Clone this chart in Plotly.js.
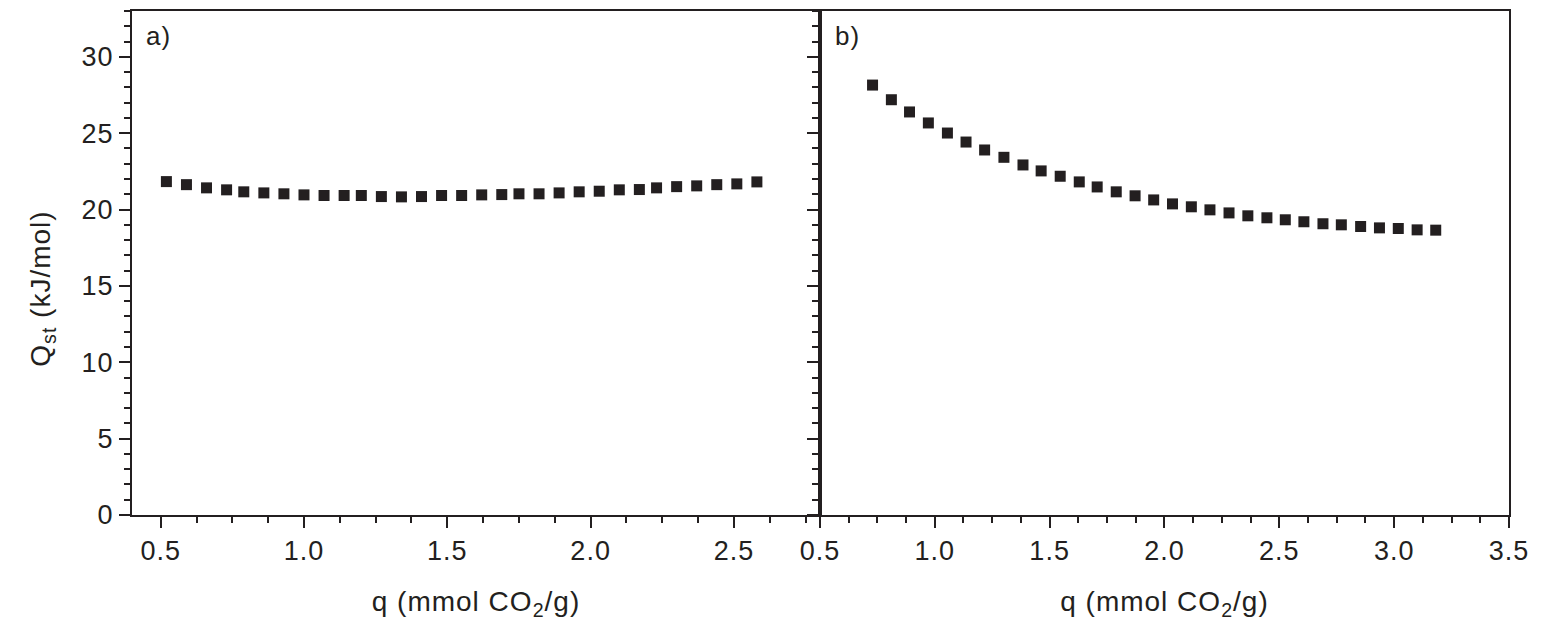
<!DOCTYPE html>
<html>
<head>
<meta charset="utf-8">
<script src="https://cdn.plot.ly/plotly-3.0.1.min.js"></script>
<style>
  html, body { margin: 0; padding: 0; background: #fff; }
  #chart { width: 1541px; height: 633px; }
  /* slightly open tracking for chart text */
  #chart text { letter-spacing: 1px; }
</style>
</head>
<body>
<div id="chart"></div>
<script>
// Panel a): isosteric heat of adsorption vs CO2 loading
const qA = [0.52, 0.59, 0.66, 0.73, 0.79, 0.86, 0.93, 1.00, 1.07, 1.14, 1.20,
            1.27, 1.34, 1.41, 1.48, 1.55, 1.62, 1.69, 1.75, 1.82, 1.89, 1.96,
            2.03, 2.10, 2.17, 2.23, 2.30, 2.37, 2.44, 2.51, 2.58];
const qstA = [21.83, 21.63, 21.42, 21.29, 21.16, 21.09, 21.03, 20.96, 20.92, 20.92, 20.92,
              20.85, 20.83, 20.85, 20.92, 20.92, 20.96, 20.98, 21.03, 21.03, 21.09, 21.16,
              21.20, 21.29, 21.31, 21.42, 21.50, 21.55, 21.63, 21.68, 21.81];

// Panel b)
const qB = [0.729, 0.811, 0.890, 0.972, 1.055, 1.136, 1.217, 1.301, 1.384, 1.463, 1.546,
            1.629, 1.707, 1.790, 1.872, 1.953, 2.035, 2.117, 2.198, 2.281, 2.363, 2.446,
            2.526, 2.607, 2.690, 2.770, 2.854, 2.936, 3.018, 3.100, 3.181];
const qstB = [28.15, 27.19, 26.39, 25.67, 25.01, 24.42, 23.90, 23.42, 22.92, 22.53, 22.18,
              21.81, 21.48, 21.16, 20.90, 20.63, 20.37, 20.18, 19.98, 19.78, 19.59, 19.46,
              19.33, 19.20, 19.07, 19.00, 18.89, 18.80, 18.76, 18.67, 18.65];

const panelLabels = ['a)', 'b)'];
const xTitle = 'q (mmol CO<sub>2</sub>/g)';
const yTitle = 'Q<sub>st</sub> (kJ/mol)';

const ink = '#231f20';
const family = 'Liberation Sans, Arial, sans-serif';
const tickFont = { family: family, size: 27, color: ink };
const titleFont = { family: family, size: 28, color: ink };
const labelFont = { family: family, size: 26, color: ink };

const marker = { symbol: 'square', size: 11, color: ink, line: { width: 0 } };

const traces = [
  { x: qA, y: qstA, xaxis: 'x', yaxis: 'y', mode: 'markers', type: 'scatter', marker: marker, showlegend: false },
  { x: qB, y: qstB, xaxis: 'x2', yaxis: 'y2', mode: 'markers', type: 'scatter', marker: marker, showlegend: false }
];

const split = 0.4996;

function xAxis(range, domain, anchor) {
  return {
    domain: domain, range: range, anchor: anchor,
    tick0: 0.5, dtick: 0.5, tickformat: '.1f',
    ticks: 'outside', ticklen: 11, tickwidth: 2, tickcolor: ink,
    minor: { dtick: 0.125, tick0: 0.5, ticks: 'outside', ticklen: 6, tickwidth: 2, tickcolor: ink, showgrid: false },
    showline: true, linewidth: 2, linecolor: ink, mirror: true,
    showgrid: false, zeroline: false,
    tickfont: tickFont,
    title: { text: xTitle, font: titleFont, standoff: 26 }
  };
}

function yAxis(anchor, showLabels) {
  return {
    domain: [0, 1], range: [0, 33], anchor: anchor,
    tick0: 0, dtick: 5,
    ticks: 'outside', ticklen: 11, tickwidth: 2, tickcolor: ink,
    minor: { dtick: 1, tick0: 0, ticks: 'outside', ticklen: 6, tickwidth: 2, tickcolor: ink, showgrid: false },
    showline: true, linewidth: 2, linecolor: ink, mirror: true,
    showgrid: false, zeroline: false,
    showticklabels: showLabels,
    tickfont: tickFont
  };
}

const layout = {
  width: 1541, height: 633,
  margin: { l: 132, r: 32, t: 11, b: 118 },
  paper_bgcolor: '#fff', plot_bgcolor: '#fff',
  font: tickFont,
  xaxis: xAxis([0.4, 2.8], [0, split], 'y'),
  yaxis: yAxis('x', true),
  xaxis2: xAxis([0.5, 3.5], [split, 1], 'y2'),
  yaxis2: yAxis('x2', false),
  annotations: [
    { text: panelLabels[0], xref: 'x domain', yref: 'y domain', x: 0.019, y: 0.985,
      xanchor: 'left', yanchor: 'top', showarrow: false, font: labelFont },
    { text: panelLabels[1], xref: 'x2 domain', yref: 'y2 domain', x: 0.021, y: 0.985,
      xanchor: 'left', yanchor: 'top', showarrow: false, font: labelFont },
    // y-axis title, placed beside the left panel
    { text: yTitle, xref: 'paper', yref: 'paper', x: -0.065, y: 0.45,
      xanchor: 'center', yanchor: 'middle', textangle: -90, showarrow: false, font: titleFont }
  ]
};

Plotly.newPlot('chart', traces, layout, { displayModeBar: false, staticPlot: true });
</script>
</body>
</html>
